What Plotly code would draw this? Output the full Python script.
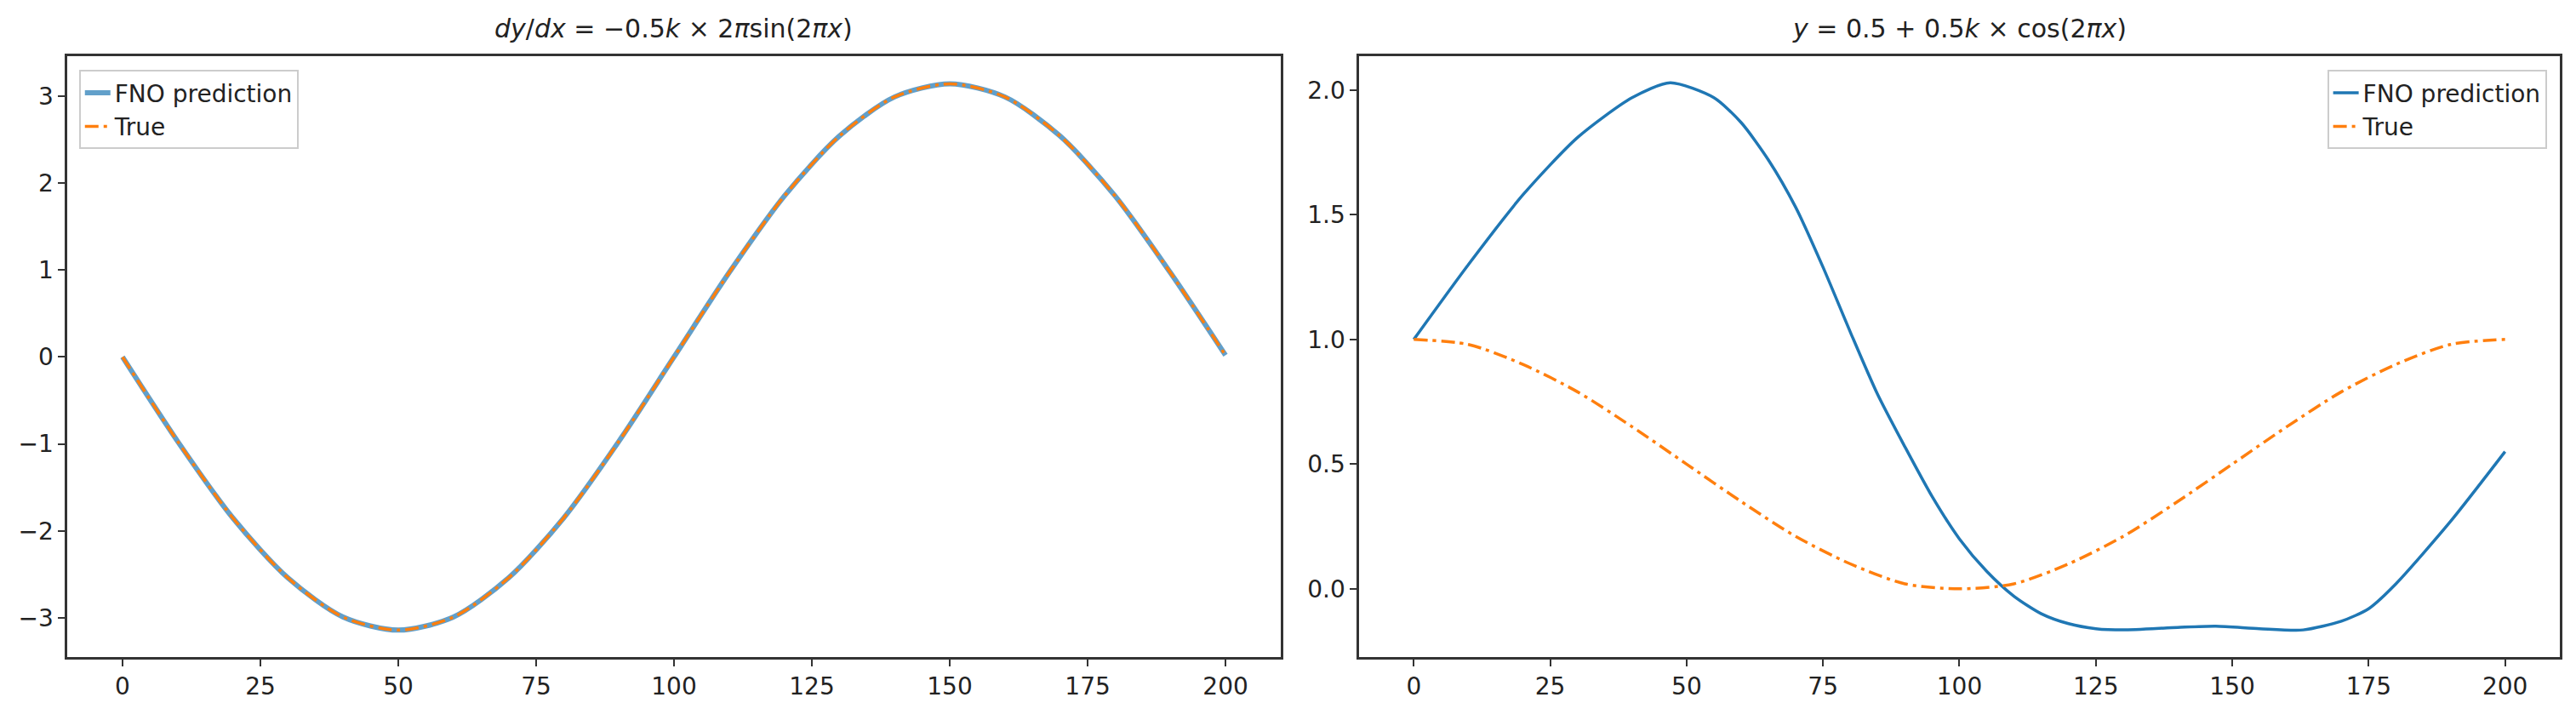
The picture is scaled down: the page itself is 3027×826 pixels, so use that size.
import plotly.graph_objects as go

x = [0, 10, 20, 30, 40, 50, 60, 70, 80, 90, 100, 110, 120, 130, 140, 150, 160, 170, 180, 190, 200]
left_true = [0, -0.97, -1.85, -2.54, -2.99, -3.14, -2.99, -2.54, -1.85, -0.97, 0, 0.97, 1.85, 2.54, 2.99, 3.14, 2.99, 2.54, 1.85, 0.97, 0.02]
left_pred = [0, -0.97, -1.85, -2.54, -2.99, -3.14, -2.99, -2.54, -1.85, -0.97, 0, 0.97, 1.85, 2.54, 2.99, 3.14, 2.99, 2.54, 1.85, 0.97, 0.02]
right_true = [1.0, 0.98, 0.90, 0.79, 0.65, 0.50, 0.35, 0.21, 0.10, 0.02, 0.0, 0.02, 0.10, 0.21, 0.35, 0.50, 0.65, 0.79, 0.90, 0.98, 1.0]
xp = [0, 10, 20, 30, 40, 47, 55, 60, 65, 70, 75, 80, 85, 90, 95, 100, 105, 110, 115, 120, 125, 130, 140, 147, 155, 163, 170, 175, 180, 190, 200]
right_pred = [1.0, 1.30, 1.58, 1.81, 1.97, 2.03, 1.97, 1.87, 1.72, 1.53, 1.29, 1.03, 0.78, 0.57, 0.37, 0.20, 0.07, -0.03, -0.10, -0.14, -0.16, -0.165, -0.155, -0.15, -0.16, -0.165, -0.13, -0.08, 0.02, 0.27, 0.55]
xticks = [0, 25, 50, 75, 100, 125, 150, 175, 200]
BLUE = "#1f77b4"
ORANGE = "#ff7f0e"
FONT = dict(family="DejaVu Sans", size=28, color="#222")
DASH = "16px,6px,4px,6px"

fig = go.Figure()
fig.add_trace(go.Scatter(x=x, y=left_pred, mode="lines", name="FNO prediction", line=dict(color=BLUE, width=6, shape="spline", smoothing=0.8), opacity=0.7, xaxis="x", yaxis="y", legend="legend"))
fig.add_trace(go.Scatter(x=x, y=left_true, mode="lines", name="True", line=dict(color=ORANGE, width=3.5, dash=DASH, shape="spline", smoothing=0.8), xaxis="x", yaxis="y", legend="legend"))
fig.add_trace(go.Scatter(x=xp, y=right_pred, mode="lines", name="FNO prediction", line=dict(color=BLUE, width=3.5, shape="spline", smoothing=0.7), xaxis="x2", yaxis="y2", legend="legend2"))
fig.add_trace(go.Scatter(x=x, y=right_true, mode="lines", name="True", line=dict(color=ORANGE, width=3.5, dash=DASH, shape="spline", smoothing=0.8), xaxis="x2", yaxis="y2", legend="legend2"))

ax = dict(showline=True, mirror=True, linecolor="#333", linewidth=2.5, ticks="outside", ticklen=8, tickwidth=2, tickcolor="#333", showgrid=False, zeroline=False, tickfont=FONT)
leg = dict(xref="paper", yref="paper", yanchor="top", bordercolor="#ccc", borderwidth=2, bgcolor="rgba(255,255,255,0.8)", font=FONT, tracegroupgap=4)
fig.update_layout(
    width=3027, height=826, margin=dict(l=0, r=0, t=0, b=0),
    paper_bgcolor="white", plot_bgcolor="white", font=FONT,
    xaxis=dict(ax, domain=[0.0235, 0.4945], range=[-10, 210], tickvals=xticks, anchor="y"),
    yaxis=dict(ax, domain=[0.075, 0.93], range=[-3.45, 3.46], tickvals=[-3, -2, -1, 0, 1, 2, 3], ticktext=["−3", "−2", "−1", "0", "1", "2", "3"], anchor="x"),
    xaxis2=dict(ax, domain=[0.525, 0.991], range=[-10, 210], tickvals=xticks, anchor="y2"),
    yaxis2=dict(ax, domain=[0.075, 0.93], range=[-0.274, 2.137], tickvals=[0, 0.5, 1, 1.5, 2], tickformat=".1f", anchor="x2"),
    legend=dict(leg, x=0.028, y=0.91, xanchor="left"),
    legend2=dict(leg, x=0.986, y=0.91, xanchor="right"),
    annotations=[
        dict(text="<i>dy</i>/<i>dx</i> = −0.5<i>k</i> × 2<i>π</i>sin(2<i>πx</i>)", x=0.259, y=0.945, xref="paper", yref="paper", xanchor="center", yanchor="bottom", showarrow=False, font=dict(family="DejaVu Sans", size=30, color="#222")),
        dict(text="<i>y</i> = 0.5 + 0.5<i>k</i> × cos(2<i>πx</i>)", x=0.758, y=0.945, xref="paper", yref="paper", xanchor="center", yanchor="bottom", showarrow=False, font=dict(family="DejaVu Sans", size=30, color="#222")),
    ],
)
fig.write_html("out.html")
